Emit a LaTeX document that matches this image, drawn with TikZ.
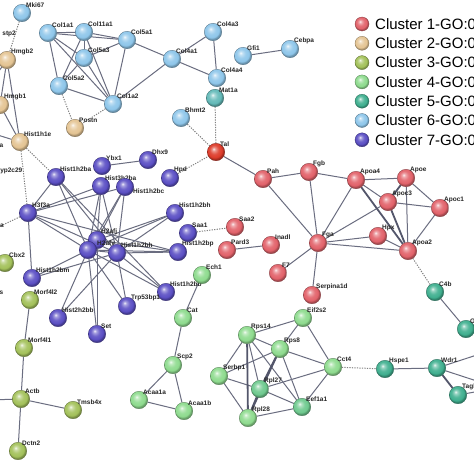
\documentclass[tikz,border=0pt]{standalone}
\usepackage{fontspec}
\setmainfont{Liberation Sans}
\usetikzlibrary{backgrounds}
\makeatletter
\pgfdeclareradialshading[tikz@ball]{sball}{\pgfqpoint{-7bp}{9bp}}{%
 color(0bp)=(tikz@ball!10!white);
 color(5bp)=(tikz@ball!55!white);
 color(13bp)=(tikz@ball!90!white);
 color(21bp)=(tikz@ball);
 color(25bp)=(tikz@ball!72!black);
 color(50bp)=(tikz@ball!72!black)}
\makeatother
\definecolor{cA}{HTML}{E2626A}
\definecolor{cTal}{HTML}{DD3B2A}
\definecolor{cB}{HTML}{E4C493}
\definecolor{cC}{HTML}{A3C15A}
\definecolor{cD}{HTML}{8EDB8E}
\definecolor{cE}{HTML}{3FAF8F}
\definecolor{cF}{HTML}{8EC6EA}
\definecolor{cG}{HTML}{5B4FC4}
\definecolor{edgec}{HTML}{6A6D80}
\definecolor{edgek}{HTML}{53566B}
\definecolor{dotc}{HTML}{808080}
\tikzset{
 gball/.style={circle, inner sep=0pt, minimum size=17.5pt, ball color=#1, shading=sball, draw=#1!55!black, line width=0.3pt},
 legball/.style={circle, inner sep=0pt, minimum size=14pt, ball color=#1, shading=sball, draw=#1!60!black, line width=0.3pt},
 lbl/.style={font=\fontsize{6.5}{8}\selectfont\bfseries, inner sep=0pt, anchor=south west, text=black!85},
 legtxt/.style={font=\fontsize{15}{18}\selectfont, inner sep=0pt, anchor=west, text=black},
 edge/.style={draw=edgec, line width=1pt},
 tedge/.style={draw=edgek, line width=1.8pt},
 dedge/.style={draw=dotc, line width=1pt, dash pattern=on 1.2pt off 1.3pt},
}
\newcommand\gn[5]{\node[gball=#4] (#1) at (#2,#3) {}; \node[lbl] (#1-l) at ({#2+4},{#3-5}) {#5};}
\newcommand\gnx[8]{\node[gball=#4] (#1) at (#2,#3) {}; \node[lbl,anchor=#8] (#1-l) at (#6,#7) {#5};}
\begin{document}
\begin{tikzpicture}[x=1pt,y=-1pt]
\path[use as bounding box] (0,0) rectangle (474,474);
\clip (0,0) rectangle (474,474);
% off-picture ends
\coordinate (oL1) at (-12,72);
\coordinate (oL2) at (-12,86);
\coordinate (oL3) at (-12,132);
\coordinate (oLa) at (-8,230);
\coordinate (oL5) at (-12,400);
\coordinate (oR1) at (486,352);
\coordinate (oR2) at (486,384);
\coordinate (oR3) at (486,390);
\coordinate (oR4) at (486,332);
% cluster 6 (blue)
\gn{Mki67}{22}{13}{cF}{Mki67}
\gn{Col1a1}{48}{33}{cF}{Col1a1}
\gn{Col11a1}{84}{32}{cF}{Col11a1}
\gn{Col5a1}{127}{40}{cF}{Col5a1}
\gn{Col5a3}{84}{58}{cF}{Col5a3}
\gn{Col5a2}{59}{86}{cF}{Col5a2}
\gn{Col1a2}{113}{104}{cF}{Col1a2}
\gn{Col4a1}{172}{59}{cF}{Col4a1}
\gn{Col4a3}{213}{32}{cF}{Col4a3}
\gn{Col4a4}{217}{78}{cF}{Col4a4}
\gn{Gfi1}{243}{56}{cF}{Gfi1}
\gn{Cebpa}{290}{49}{cF}{Cebpa}
\gn{Bhmt2}{181}{118}{cF}{Bhmt2}
\gn{Mat1a}{215}{98}{cE!55!cF}{Mat1a}
\gn{Tal}{216}{152}{cTal}{Tal}
% cluster 2 (tan)
\gn{Hmgb2}{7}{60}{cB}{Hmgb2}
\gn{Hmgb1}{0}{105}{cB}{Hmgb1}
\gn{Hist1h1e}{20}{142}{cB}{Hist1h1e}
\gn{Postn}{75}{128}{cB}{Postn}
% cluster 7 (purple)
\gn{Dhx9}{148}{160}{cG}{Dhx9}
\gn{Ybx1}{102}{166}{cG}{Ybx1}
\gn{Hist1h2ba}{56}{177}{cG}{Hist1h2ba}
\gn{Hist3h2ba}{101}{186}{cG}{Hist3h2ba}
\gnx{Hist1h2bc}{125}{187}{cG}{Hist1h2bc}{133}{191}{west}
\gn{Hpd}{170}{178}{cG}{Hpd}
\gn{H3f3a}{28}{213}{cG}{H3f3a}
\gn{Hist1h2bm}{32}{278}{cG}{Hist1h2bm}
\gn{Hist1h2bhB}{175}{213}{cG}{Hist1h2bh}
\gn{Hist1h2bp}{178}{252}{cG}{Hist1h2bp}
\gn{Saa1}{188}{233}{cG}{Saa1}
\gn{Hist1h2bb}{166}{292}{cG}{Hist1h2bb}
\gn{Trp53bp1}{127}{306}{cG}{Trp53bp1}
\gn{Hist2h2bb}{58}{318}{cG}{Hist2h2bb}
\gn{Set}{97}{334}{cG}{Set}
\gn{H2afj}{97}{240}{cG}{H2afj}
\gnx{H2afv}{88}{250}{cG}{H2afv}{97}{246}{south west}
\gn{Hist1h2bhA}{117}{253}{cG}{Hist1h2bh}
% cluster 1 (red)
\gn{Pah}{263}{179}{cA}{Pah}
\gn{Fgb}{309}{172}{cA}{Fgb}
\gn{Fga}{318}{243}{cA}{Fga}
\gn{Saa2}{235}{227}{cA}{Saa2}
\gn{Pard3}{227}{250}{cA}{Pard3}
\gn{Inadl}{271}{245}{cA}{Inadl}
\gn{F7}{278}{273}{cA}{F7}
\gn{Serpina1d}{312}{295}{cA}{Serpina1d}
\gn{Apoa4}{356}{180}{cA}{Apoa4}
\gn{Apoe}{406}{178}{cA}{Apoe}
\gn{Apoc3}{388}{202}{cA}{Apoc3}
\gn{Apoc1}{440}{208}{cA}{Apoc1}
\gn{Hpx}{378}{236}{cA}{Hpx}
\gn{Apoa2}{408}{251}{cA}{Apoa2}
% cluster 3 (olive)
\gn{Cbx2}{5}{263}{cC}{Cbx2}
\gn{Morf4l2}{30}{300}{cC}{Morf4l2}
\gn{Morf4l1}{24}{348}{cC}{Morf4l1}
\gn{Actb}{21}{399}{cC}{Actb}
\gn{Tmsb4x}{73}{410}{cC}{Tmsb4x}
\gn{Dctn2}{18}{451}{cC}{Dctn2}
% cluster 4 (green)
\gn{Ech1}{202}{275}{cD}{Ech1}
\gn{Cat}{183}{318}{cD}{Cat}
\gn{Scp2}{173}{365}{cD}{Scp2}
\gn{Acaa1a}{139}{400}{cD}{Acaa1a}
\gn{Acaa1b}{184}{411}{cD}{Acaa1b}
\gn{Rps14}{247}{335}{cD}{Rps14}
\gn{Eif2s2}{303}{318}{cD}{Eif2s2}
\gn{Rps8}{280}{349}{cD}{Rps8}
\gn{Serbp1}{219}{376}{cD}{Serbp1}
\gn{Rpl27}{260}{389}{cD!60!cE}{Rpl27}
\gn{Eef1a1}{302}{407}{cD!60!cE}{Eef1a1}
\gn{Rpl28}{248}{418}{cD}{Rpl28}
\gn{Cct4}{333}{367}{cD}{Cct4}
% cluster 5 (teal)
\gn{C4b}{435}{292}{cE}{C4b}
\gn{Gnode}{466}{329}{cE}{G}
\gn{Hspe1}{385}{369}{cE}{Hspe1}
\gn{Wdr1}{437}{368}{cE}{Wdr1}
\gn{Tagln2}{458}{395}{cE}{Tagln2}
% labels of nodes outside the picture
\node[lbl,anchor=east] (tstp) at (16,34) {stp2};
\node[lbl,anchor=east] (tcyp) at (22.5,171) {Cyp2c29};
\node[lbl,anchor=east] (ta1) at (3.5,146) {a};
\node[lbl,anchor=east] (ta2) at (4,226) {a};
\node[lbl,anchor=east] (ts) at (3.5,293) {s};
% legend
\foreach \i/\c in {1/cA,2/cB,3/cC,4/cD,5/cE,6/cF,7/cG}{
  \node[legball=\c] (leg\i) at (362,{24+19.3*(\i-1)}) {};
  \node[legtxt] (legt\i) at (375,{24+19.3*(\i-1)}) {Cluster \i-GO:0};
}
\begin{pgfonlayer}{background}
\fill[white] (0,0) rectangle (474,474);
\foreach \a/\b in {Col1a1/Col11a1,Col1a1/Col5a2,Col1a1/Col5a3,Col1a1/Col1a2,Col1a1/Col5a1,
  Col11a1/Col5a1,Col11a1/Col5a3,Col11a1/Col5a2,Col11a1/Col1a2,Col5a1/Col5a3,Col5a1/Col1a2,
  Col5a1/Col4a1,Col5a3/Col5a2,Col5a3/Col1a2,Col5a2/Col1a2,Col1a2/Col4a1,Col4a1/Col4a3,
  Col4a1/Col4a4,Col4a3/Col4a4,Gfi1/Cebpa,
  Hmgb2/Hmgb1,Hmgb2/Hist1h1e,Hmgb1/Hist1h1e,Hmgb2/oL1,Hmgb2/oL2,Hist1h1e/oL3,
  Dhx9/Ybx1,H3f3a/Hist1h2ba,H3f3a/Hist3h2ba,H3f3a/Hist1h2bc,H3f3a/H2afv,H3f3a/Hist1h2bhA,
  H3f3a/Hist1h2bm,H3f3a/Hist1h2bp,Hist1h2ba/H2afv,Hist1h2ba/Hist1h2bhA,Hist1h2ba/Hist1h2bb,
  Hist3h2ba/H2afv,Hist3h2ba/H2afj,Hist3h2ba/Hist1h2bhA,Hist1h2bc/H2afv,Hist1h2bc/H2afj,
  Hist1h2bc/Hist1h2bhA,H2afj/H2afv,H2afj/Hist1h2bhB,H2afv/Hist1h2bhA,H2afv/Hist1h2bhB,
  Hist1h2bhA/Hist1h2bhB,H2afv/Hist1h2bp,Hist1h2bhA/Hist1h2bp,H2afj/Hist1h2bp,
  H2afv/Hist1h2bb,Hist1h2bhA/Hist1h2bb,Hist1h2bhA/Trp53bp1,H2afv/Trp53bp1,
  H2afv/Hist1h2bm,Hist1h2bhA/Hist1h2bm,H2afv/Hist2h2bb,Hist1h2bhA/Hist2h2bb,
  H2afv/Set,H2afj/Set,
  Tal/Pah,Pah/Fgb,Pah/Fga,Fgb/Fga,Fgb/Apoa4,Fga/Apoa4,Fga/Apoc3,Fga/Hpx,Fga/Apoa2,Fga/F7,
  Fga/Serpina1d,Inadl/Pard3,Apoa4/Apoe,Apoa4/Apoc3,Apoe/Apoc1,Apoe/Apoa2,Apoc3/Apoc1,
  Apoc1/Apoa2,Hpx/Apoa2,
  C4b/Gnode,Gnode/oR4,Hspe1/Wdr1,Wdr1/oR1,Wdr1/oR2,Tagln2/oR3,
  Ech1/Cat,Cat/Scp2,Scp2/Acaa1a,Scp2/Acaa1b,Acaa1a/Acaa1b,
  Rps14/Eif2s2,Rps14/Rps8,Rps14/Serbp1,Rps14/Rpl27,Rps14/Eef1a1,Rps8/Eif2s2,Rps8/Serbp1,
  Rps8/Eef1a1,Rps8/Cct4,Eif2s2/Cct4,Serbp1/Rpl27,Serbp1/Rpl28,Rpl27/Eef1a1,Rpl27/Cct4,
  Rpl28/Eef1a1,Eef1a1/Cct4,
  Morf4l2/Morf4l1,Morf4l1/Actb,Actb/Tmsb4x,Actb/Dctn2,Actb/oL5}
  \draw[edge] (\a) -- (\b);
\foreach \a/\b in {Apoa4/Apoa2,Apoe/Apoc3,Apoc3/Apoa2,Wdr1/Tagln2,Rps14/Rpl28,Rps8/Rpl27,
  Rps8/Rpl28,Rpl27/Rpl28}
  \draw[tedge] (\a) -- (\b);
\foreach \a/\b in {Mki67/Hmgb2,Col5a2/Postn,Col1a2/Postn,Mat1a/Tal,Bhmt2/Tal,Hpd/Tal,
  Hist1h1e/Hist1h2ba,Hist1h1e/H3f3a,H3f3a/oLa,Saa1/Saa2,Apoa2/C4b,Cct4/Hspe1}
  \draw[dedge] (\a) -- (\b);
\end{pgfonlayer}
\end{tikzpicture}
\end{document}
